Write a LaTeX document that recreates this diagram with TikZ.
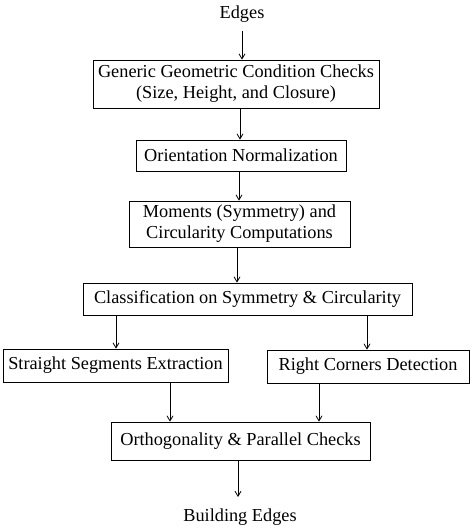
\documentclass[tikz,border=0pt]{standalone}
\usepackage{fontspec}
\setmainfont{Liberation Serif}
\usetikzlibrary{arrows.meta}
\begin{document}
\begin{tikzpicture}[x=1bp,y=-1bp,
  box/.style={draw,line width=0.8bp,inner sep=0pt,align=center,font=\fontsize{18.3bp}{21bp}\selectfont},
  lbl/.style={inner sep=0pt,font=\fontsize{18.3bp}{21bp}\selectfont},
  arr/.style={line width=0.8bp,-{Straight Barb[length=5bp,width=6bp]}}]
\useasboundingbox (0,0) rectangle (474,530);
\node[lbl] (in) at (242,14) {Edges};
\node[box,minimum width=286bp,minimum height=48bp] (b1) at (236,84) {Generic Geometric Condition Checks\\(Size, Height, and Closure)};
\node[box,minimum width=210bp,minimum height=31bp] (b2) at (241,155.5) {Orientation Normalization};
\node[box,minimum width=221bp,minimum height=46bp] (b3) at (239.5,224) {Moments (Symmetry) and\\Circularity Computations};
\node[box,minimum width=329bp,minimum height=32bp] (b4) at (247.5,299) {Classification on Symmetry \& Circularity};
\node[box,minimum width=225bp,minimum height=33bp] (b5) at (115.5,365.5) {Straight Segments Extraction};
\node[box,minimum width=202bp,minimum height=33bp] (b6) at (368,366.5) {Right Corners Detection};
\node[box,minimum width=259bp,minimum height=38bp] (b7) at (240.5,441) {Orthogonality \& Parallel Checks};
\node[lbl] (out) at (240,517) {Building Edges};
\coordinate (xa) at (242,31);
\coordinate (xb) at (240,0);
\coordinate (xc) at (239,0);
\coordinate (xd) at (237,0);
\coordinate (xe) at (116,0);
\coordinate (xf) at (367,0);
\coordinate (xg) at (170,0);
\coordinate (xh) at (319,0);
\coordinate (xi) at (238,497);
\draw[arr] (xa) -- (b1.north -| xa);
\draw[arr] (b1.south -| xb) -- (b2.north -| xb);
\draw[arr] (b2.south -| xc) -- (b3.north -| xc);
\draw[arr] (b3.south -| xd) -- (b4.north -| xd);
\draw[arr] (b4.south -| xe) -- (b5.north -| xe);
\draw[arr] (b4.south -| xf) -- (b6.north -| xf);
\draw[arr] (b5.south -| xg) -- (b7.north -| xg);
\draw[arr] (b6.south -| xh) -- (b7.north -| xh);
\draw[arr] (b7.south -| xi) -- (xi);
\end{tikzpicture}
\end{document}
